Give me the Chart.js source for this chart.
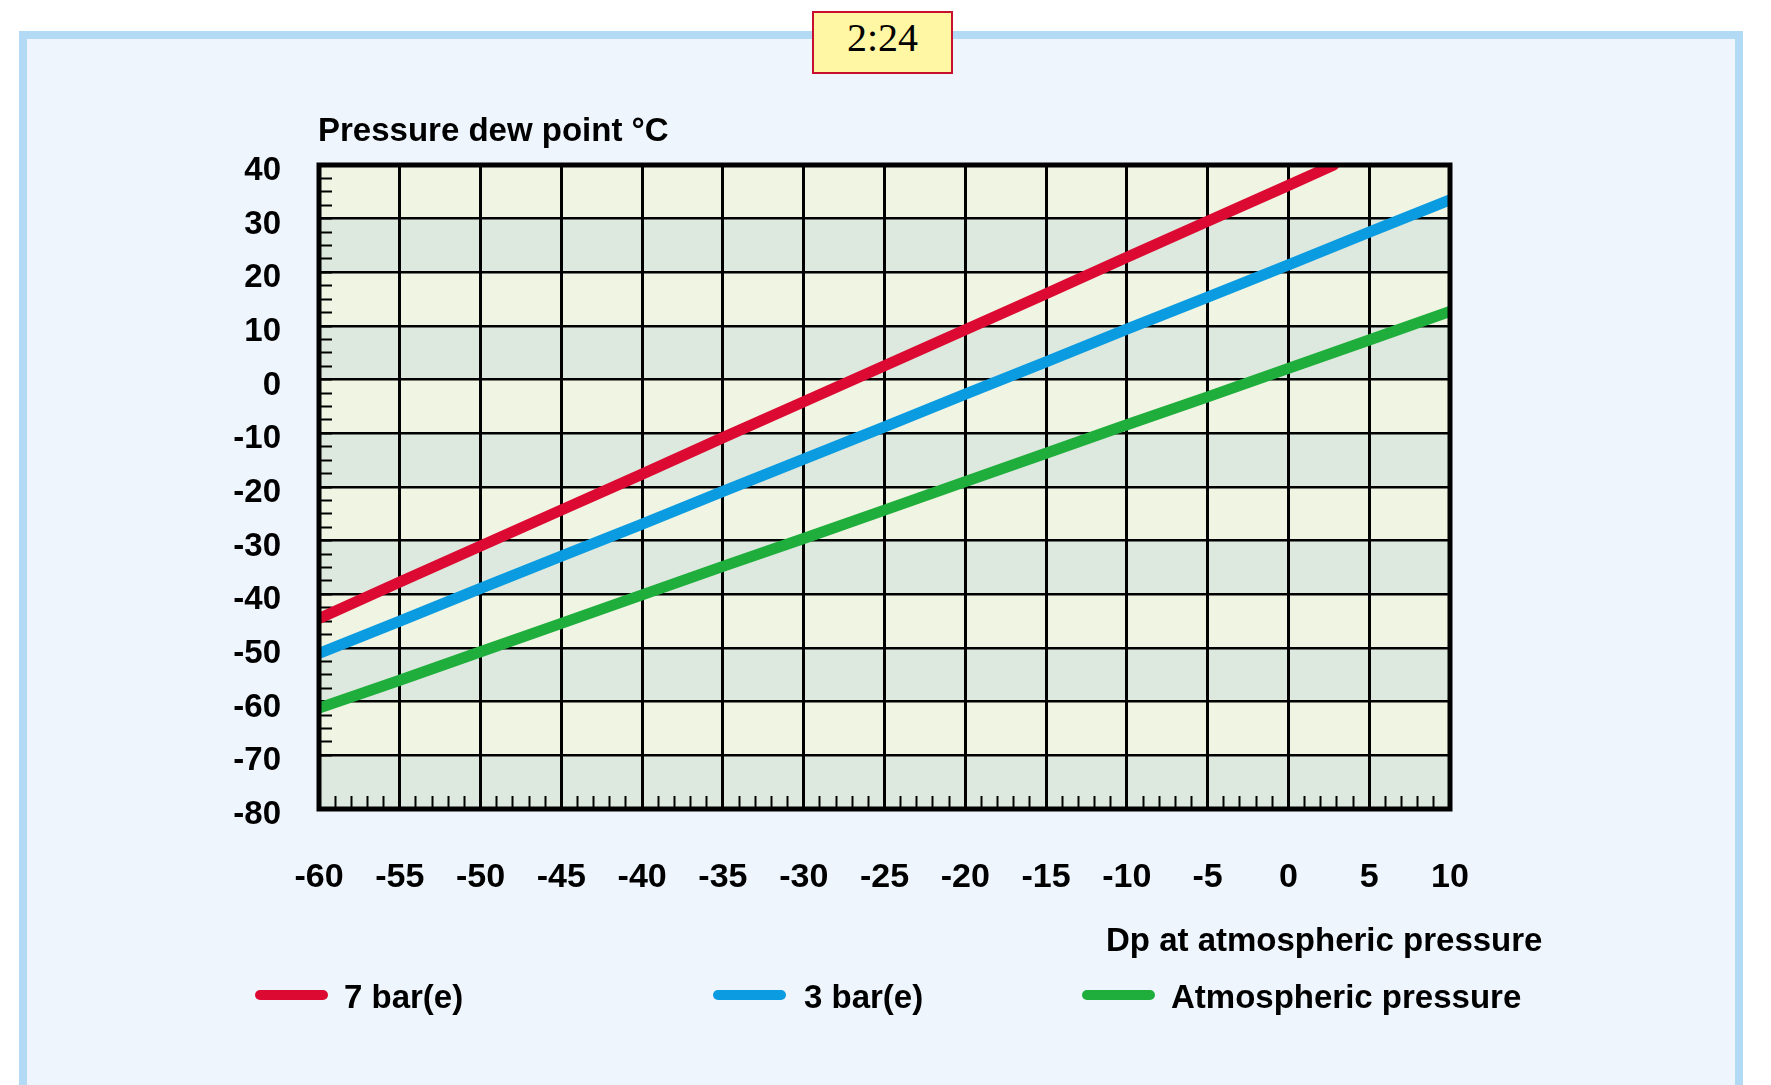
<!DOCTYPE html>
<html>
<head>
<meta charset="utf-8">
<script src="https://cdn.jsdelivr.net/npm/chart.js@4.4.1/dist/chart.umd.min.js"></script>
<style>
html,body{margin:0;padding:0;background:#ffffff;width:1771px;height:1085px;overflow:hidden;font-family:'Liberation Sans',Arial,Helvetica,sans-serif;}
#frame{position:absolute;left:19px;top:31px;width:1708px;height:1100px;border:8px solid #b3daf4;border-bottom:none;background:#eef5fd;}
#numbox{position:absolute;left:812px;top:11px;width:137px;height:59px;border:2px solid #c8102e;background:#fff7a3;z-index:3;}
#numtxt{position:absolute;left:0;top:5px;width:137px;text-align:center;font-family:'Liberation Serif','Times New Roman',serif;font-size:40px;line-height:40px;color:#000;}
#chart{position:absolute;left:0;top:0;z-index:2;}
.t{position:absolute;white-space:nowrap;font-weight:bold;font-size:33px;line-height:33px;color:#000;z-index:3;}
.sw{position:absolute;width:73px;height:10px;border-radius:5px;z-index:3;}
</style>
</head>
<body>
<div id="frame"></div>
<div id="numbox"><div id="numtxt">2:24</div></div>
<canvas id="chart" width="1771" height="1085"></canvas>
<div class="t" style="left:318px;top:113px;">Pressure dew point °C</div>
<div class="t" style="left:1106px;top:923px;">Dp at atmospheric pressure</div>
<div class="sw" style="left:255px;top:990px;background:#dc0a32;"></div>
<div class="t" style="left:344px;top:980px;">7 bar(e)</div>
<div class="sw" style="left:713px;top:990px;background:#0a9be0;"></div>
<div class="t" style="left:804px;top:980px;">3 bar(e)</div>
<div class="sw" style="left:1082px;top:990px;background:#1fae3c;"></div>
<div class="t" style="left:1171px;top:980px;">Atmospheric pressure</div>
<script>
// ---- data ----
const seriesNames = ['7 bar(e)', '3 bar(e)', 'Atmospheric pressure'];
const xTicks = [-60, -55, -50, -45, -40, -35, -30, -25, -20, -15, -10, -5, 0, 5, 10];
const yTicks = [-80, -70, -60, -50, -40, -30, -20, -10, 0, 10, 20, 30, 40];

// Dew point at 7 bar(e) (red)
const bar7X = [-60, -55, -50, -45, -40, -35, -30, -25, -20, -15, -10, -5, 0, 2.8];
const bar7Y = [-44.5, -37.7, -31.0, -24.3, -17.6, -10.8, -4.1, 2.6, 9.3, 16.0, 22.8, 29.5, 36.2, 40];

// Dew point at 3 bar(e) (blue)
const bar3X = [-60, -55, -50, -45, -40, -35, -30, -25, -20, -15, -10, -5, 0, 5, 10];
const bar3Y = [-51.0, -45.0, -38.9, -32.9, -26.9, -20.8, -14.8, -8.8, -2.7, 3.3, 9.4, 15.4, 21.4, 27.5, 33.5];

// Dew point at atmospheric pressure (green)
const atmX = [-60, -55, -50, -45, -40, -35, -30, -25, -20, -15, -10, -5, 0, 5, 10];
const atmY = [-61.2, -56.0, -50.7, -45.4, -40.1, -34.8, -29.6, -24.3, -19.0, -13.7, -8.4, -3.2, 2.1, 7.4, 12.7];

const colors = ['#dc0a32', '#0a9be0', '#1fae3c'];

function pts(xs, ys) { return xs.map((x, i) => ({x: x, y: ys[i]})); }

const xMin = xTicks[0], xMax = xTicks[xTicks.length - 1];
const yMin = yTicks[0], yMax = yTicks[yTicks.length - 1];

const bandPlugin = {
  id: 'bands',
  beforeDraw(chart) {
    const {ctx, chartArea} = chart;
    const ys = chart.scales.y;
    ctx.save();
    for (let i = yTicks.length - 1; i > 0; i--) {
      const top = ys.getPixelForValue(yTicks[i]);
      const bot = ys.getPixelForValue(yTicks[i - 1]);
      const k = yTicks.length - 1 - i;
      ctx.fillStyle = (k % 2 === 0) ? '#f0f4e2' : '#dde9de';
      ctx.fillRect(chartArea.left, top, chartArea.right - chartArea.left, bot - top);
    }
    ctx.restore();
  },
  afterDatasetsDraw(chart) {
    const {ctx, chartArea} = chart;
    ctx.save();
    ctx.strokeStyle = '#000';
    ctx.lineWidth = 5;
    ctx.strokeRect(chartArea.left, chartArea.top, chartArea.right - chartArea.left, chartArea.bottom - chartArea.top);
    ctx.restore();
  }
};

const xFont = {family: "'Liberation Sans', Arial, sans-serif", size: 34, weight: 'bold'};
const yFont = {family: "'Liberation Sans', Arial, sans-serif", size: 33, weight: 'bold'};

new Chart(document.getElementById('chart'), {
  type: 'line',
  data: {
    datasets: [
      {label: seriesNames[0], data: pts(bar7X, bar7Y), borderColor: colors[0]},
      {label: seriesNames[1], data: pts(bar3X, bar3Y), borderColor: colors[1]},
      {label: seriesNames[2], data: pts(atmX, atmY), borderColor: colors[2]}
    ].map(d => Object.assign(d, {borderWidth: 11, pointRadius: 0, tension: 0, fill: false, borderCapStyle: 'round', clip: 0}))
  },
  options: {
    responsive: false,
    animation: false,
    events: [],
    layout: {padding: {left: 0, right: 321, top: 165, bottom: 176}},
    plugins: {legend: {display: false}, tooltip: {enabled: false}, title: {display: false}},
    scales: {
      x: {
        type: 'linear', position: 'bottom', weight: 1,
        min: xMin, max: xMax,
        ticks: {stepSize: 5, color: '#000', font: xFont, padding: 48, autoSkip: false, maxRotation: 0},
        grid: {color: '#000', lineWidth: 3, drawTicks: false},
        border: {display: false},
        afterFit: s => { s.height = 100; }
      },
      xMinor: {
        type: 'linear', position: 'bottom', weight: 0,
        min: xMin, max: xMax,
        ticks: {stepSize: 1, display: false},
        grid: {drawOnChartArea: false, drawTicks: true, tickLength: -13, tickWidth: 2, tickColor: '#000'},
        border: {display: false},
        afterFit: s => { s.height = 0; }
      },
      y: {
        type: 'linear', position: 'left', weight: 1,
        min: yMin, max: yMax,
        ticks: {stepSize: 10, color: '#000', font: yFont, padding: 38, autoSkip: false, labelOffset: 6},
        grid: {color: '#000', lineWidth: 2.5, drawTicks: false},
        border: {display: false},
        afterFit: s => { s.width = 319; }
      },
      yMinor: {
        type: 'linear', position: 'left', weight: 0,
        min: yMin, max: yMax,
        ticks: {stepSize: 2.5, display: false},
        grid: {drawOnChartArea: false, drawTicks: true, tickLength: -13, tickWidth: 2,
               tickColor: c => (c.tick && c.tick.value < -70) ? 'rgba(0,0,0,0)' : '#000'},
        border: {display: false},
        afterFit: s => { s.width = 0; }
      }
    }
  },
  plugins: [bandPlugin]
});
</script>
</body>
</html>
